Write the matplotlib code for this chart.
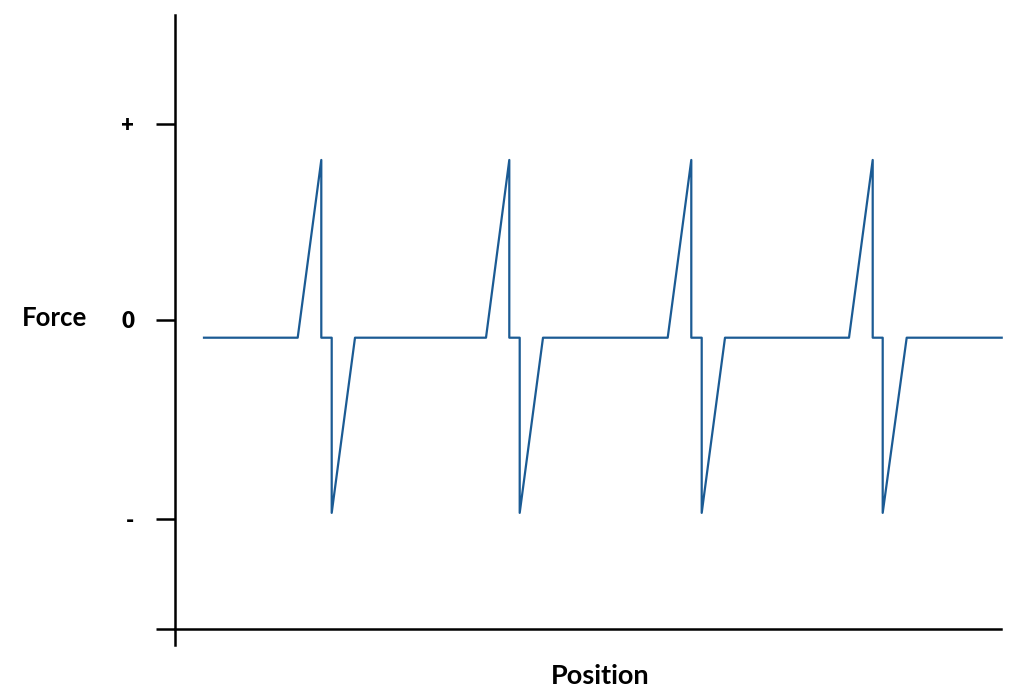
import matplotlib.pyplot as plt

plt.rcParams['font.family'] = ['Lato', 'DejaVu Sans']

# force profile, arbitrary position units (one cycle = ramp up, snap, ramp back)
ramp_start = [12.27, 31.10, 49.27, 67.40]
peak_pos = [14.63, 33.43, 51.63, 69.77]
snap_pos = [15.67, 34.47, 52.67, 70.77]
ramp_end = [18.00, 36.80, 55.00, 73.17]
x_start, x_end = 2.9, 82.67
base = -0.09
peak = 0.81
trough = -0.977

tick_vals = [-1.565, -1.008, 0, 0.993]
tick_labels = ['', '-', '0', '+']

xs = [x_start]
ys = [base]
for a, b, c, d in zip(ramp_start, peak_pos, snap_pos, ramp_end):
    xs += [a, b, b, c, c, d]
    ys += [base, peak, base, base, trough, base]
xs.append(x_end)
ys.append(base)

fig = plt.figure(figsize=(10.24, 6.95), dpi=100)
W, H = 1024, 695
ax = fig.add_axes([175 / W, 1 - 645 / H, (1001 - 175) / W, (645 - 15) / H])

ax.plot(xs, ys, color='#1b5b94', lw=1.6, clip_on=False)

ax.set_xlim(0, 82.6)
ax.set_ylim(-1.646, 1.544)

for s in ['top', 'right']:
    ax.spines[s].set_visible(False)
ax.spines['bottom'].set_position(('data', -1.565))
for s in ['left', 'bottom']:
    ax.spines[s].set_linewidth(1.8)

ax.set_xticks([])
ax.set_yticks(tick_vals)
ax.set_yticklabels(tick_labels)
ax.tick_params(axis='y', length=13.5, width=1.8, pad=16, labelsize=16)
for lbl in ax.get_yticklabels():
    lbl.set_fontweight('heavy')

fig.text(22 / W, 1 - 318 / H, 'Force', fontsize=18.5, fontweight='bold',
         ha='left', va='center')
fig.text(600 / W, 1 - 676 / H, 'Position', fontsize=19.5, fontweight='bold',
         ha='center', va='center')

fig.savefig('out.png', dpi=100)
